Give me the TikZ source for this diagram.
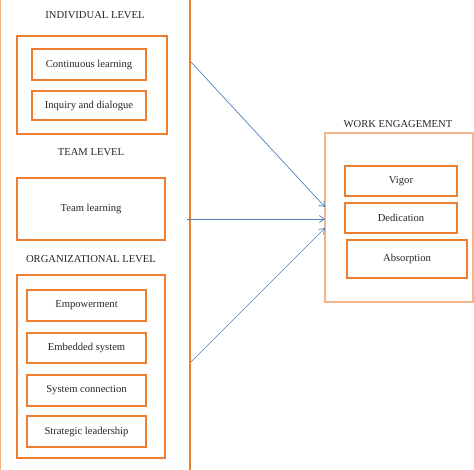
\documentclass[tikz,border=0pt]{standalone}
\usepackage{fontspec}
\setmainfont{Liberation Serif}
\usetikzlibrary{arrows.meta}
\definecolor{orng}{RGB}{237,125,49}
\definecolor{peach}{RGB}{244,180,140}
\definecolor{arrblue}{RGB}{79,129,189}
\tikzset{
  itembox/.style={draw=orng, line width=1.5pt, rectangle, inner sep=0pt, font=\fontsize{10.6}{12}\selectfont, text=black!85},
  groupbox/.style={draw=orng, line width=1.5pt, rectangle, inner sep=0pt},
  ttl/.style={font=\fontsize{10.6}{12}\selectfont, text=black!85, inner sep=0pt},
  link/.style={draw=arrblue, line width=0.7pt, -{Straight Barb[length=5pt,width=7pt]}}
}
\begin{document}
\begin{tikzpicture}[x=1pt,y=-1pt]
\useasboundingbox (0,0) rectangle (474,470);
% big left frame
\draw[draw=orng!60, line width=1.5pt] (-0.2,-3) rectangle (190,473);
\draw[draw=orng, line width=1.5pt] (190,-3) -- (190,473);
% titles
\node[ttl] (tind) at (95,15) {INDIVIDUAL LEVEL};
\node[ttl] (tteam) at (91,152) {TEAM LEVEL};
\node[ttl] (torg) at (91,259) {ORGANIZATIONAL LEVEL};
\node[ttl] (twe) at (398,124) {WORK ENGAGEMENT};
% individual
\node[groupbox, minimum width=150pt, minimum height=98pt] (gind) at (92,85) {};
\node[itembox, minimum width=114pt, minimum height=31pt] (cl) at (89,64.5) {Continuous learning};
\node[itembox, minimum width=114pt, minimum height=29pt] (iq) at (89,105.5) {Inquiry and dialogue};
% team
\node[itembox, minimum width=148pt, minimum height=62pt] (tl) at (91,209) {Team learning};
% organizational
\node[groupbox, minimum width=148pt, minimum height=183pt] (gorg) at (91,366.5) {};
\node[itembox, minimum width=119pt, minimum height=31pt] (emp) at (86.5,305.5) {Empowerment};
\node[itembox, minimum width=119pt, minimum height=30pt] (emb) at (86.5,348) {Embedded system};
\node[itembox, minimum width=119pt, minimum height=31pt] (sc) at (86.5,390.5) {System connection};
\node[itembox, minimum width=119pt, minimum height=31pt] (sl) at (86.5,431.5) {Strategic leadership};
% work engagement
\node[draw=peach, line width=1.2pt, rectangle, inner sep=0pt, minimum width=148pt, minimum height=169pt] (we) at (399,217.5) {};
\node[itembox, minimum width=112pt, minimum height=30pt] (vig) at (401,181) {Vigor};
\node[itembox, minimum width=112pt, minimum height=30pt] (ded) at (401,218) {Dedication};
\node[itembox, minimum width=120pt, minimum height=38pt] (abs) at (407,259) {Absorption};
% arrows
\coordinate (s1) at (191,62);
\coordinate (s2) at (187,219);
\coordinate (s3) at (191,362);
\coordinate (e1) at (325,207);
\coordinate (e2) at (325,219);
\coordinate (e3) at (325,228);
\draw[link] (s1) -- (e1);
\draw[link] (s2) -- (e2);
\draw[link] (s3) -- (e3);
\end{tikzpicture}
\end{document}
